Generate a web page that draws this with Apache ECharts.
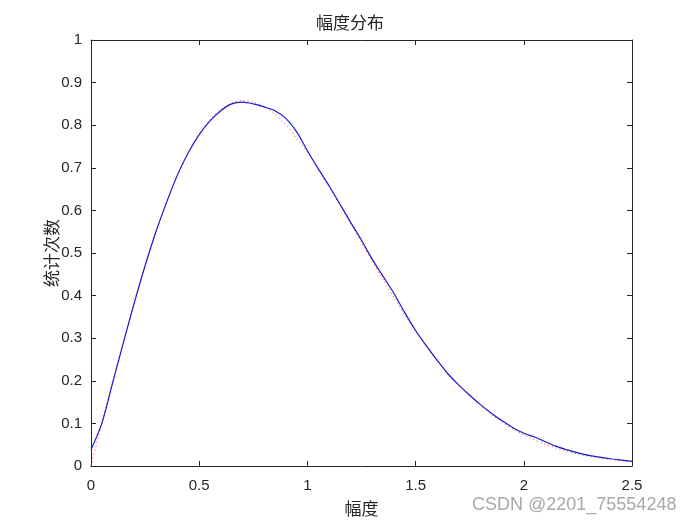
<!DOCTYPE html>
<html><head><meta charset="utf-8">
<script src="https://cdn.jsdelivr.net/npm/echarts@6/dist/echarts.min.js"></script>
<style>html,body{margin:0;padding:0;background:#fff}#c{width:700px;height:525px}</style>
</head><body><div id="c"></div>
<script>
const xValues = [0,0.05,0.1,0.15,0.2,0.25,0.3,0.35,0.4,0.45,0.5,0.55,0.6,0.65,0.7,0.75,0.8,0.85,0.9,0.95,1.0,1.05,1.1,1.15,1.2,1.25,1.3,1.35,1.4,1.45,1.5,1.55,1.6,1.65,1.7,1.75,1.8,1.85,1.9,1.95,2.0,2.05,2.1,2.15,2.2,2.25,2.3,2.35,2.4,2.45,2.5];
const measured = [0.038,0.100,0.195,0.290,0.383,0.470,0.550,0.620,0.684,0.736,0.778,0.810,0.834,0.850,0.854,0.850,0.843,0.834,0.816,0.785,0.740,0.698,0.658,0.615,0.572,0.530,0.485,0.445,0.405,0.360,0.318,0.282,0.248,0.216,0.190,0.166,0.144,0.124,0.106,0.090,0.077,0.068,0.057,0.046,0.038,0.031,0.025,0.021,0.017,0.014,0.011];
const theory = [0,0.100,0.198,0.293,0.384,0.470,0.549,0.618,0.682,0.735,0.779,0.814,0.837,0.852,0.858,0.854,0.844,0.825,0.801,0.769,0.736,0.698,0.655,0.613,0.569,0.524,0.480,0.437,0.395,0.354,0.316,0.280,0.247,0.217,0.189,0.164,0.141,0.121,0.103,0.087,0.073,0.061,0.051,0.042,0.035,0.028,0.023,0.019,0.015,0.012,0.010];
const titleText = '幅度分布';
const xName = '幅度';
const yName = '统计次数';
const watermark = 'CSDN @2201_75554248';

const chart = echarts.init(document.getElementById('c'));
const lbl = {color:'#262626', fontSize:15, fontFamily:'Liberation Sans, Arial, sans-serif'};
const axLine = {show:true, onZero:false, lineStyle:{color:'#262626', width:1}};
const tick = {show:true, inside:true, length:5, lineStyle:{color:'#262626'}};
const cjk = {fontSize:17, color:'#262626', fontFamily:'Noto Sans CJK SC', fontWeight:'normal'};
chart.setOption({
  animation:false,
  backgroundColor:'#fff',
  title:{text:titleText, left:'center', top:9, textStyle:cjk},
  grid:{left:91, right:68, top:40, bottom:59, show:false},
  graphic:[
    {type:'text', left:472, top:496, style:{text:watermark, fill:'#a8a8a8', fontSize:18, fontFamily:'Liberation Sans, Arial, sans-serif'}}
  ],
  xAxis:[
    {type:'value', min:0, max:2.5, interval:0.5, position:'bottom',
     axisLine:axLine, axisTick:tick, splitLine:{show:false},
     axisLabel:Object.assign({margin:12}, lbl),
     name:xName, nameLocation:'middle', nameGap:34, nameMoveOverlap:false, nameTextStyle:cjk},
    {type:'value', min:0, max:2.5, interval:0.5, position:'top',
     axisLine:axLine, axisTick:tick, axisLabel:{show:false}, splitLine:{show:false}}
  ],
  yAxis:[
    {type:'value', min:0, max:1, interval:0.1, position:'left',
     axisLine:axLine, axisTick:tick, splitLine:{show:false},
     axisLabel:Object.assign({margin:9, formatter:v=>String(+v.toFixed(1))}, lbl),
     name:yName, nameLocation:'middle', nameGap:31, nameMoveOverlap:false, nameRotate:90, nameTextStyle:cjk},
    {type:'value', min:0, max:1, interval:0.1, position:'right',
     axisLine:axLine, axisTick:tick, axisLabel:{show:false}, splitLine:{show:false}}
  ],
  series:[
    {type:'line', name:'theory', data:xValues.map((x,i)=>[x,theory[i]]), smooth:0.3, symbol:'none',
     lineStyle:{color:'#ff3b1f', width:1, type:[1,3]}, z:2},
    {type:'line', name:'measured', data:xValues.map((x,i)=>[x,measured[i]]), smooth:0.3, symbol:'none',
     lineStyle:{color:'#1a1ad6', width:1.2}, z:3}
  ]
});
</script></body></html>
